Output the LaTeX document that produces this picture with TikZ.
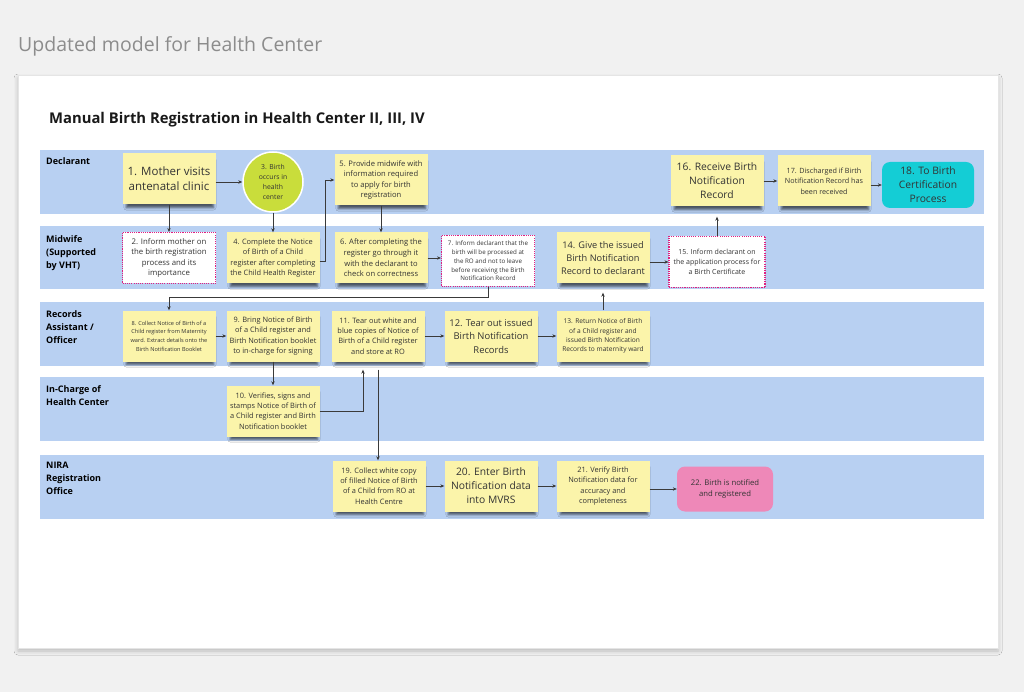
\documentclass[tikz,border=0pt]{standalone}
\usepackage{fontspec}
\setmainfont{Open Sans}
\usepackage{tikz}
\usetikzlibrary{arrows.meta}
\usetikzlibrary{calc}
\usetikzlibrary{shadows.blur}
\definecolor{pagegray}{HTML}{F1F1F1}
\definecolor{headgray}{HTML}{8C8C8C}
\definecolor{lanefill}{HTML}{B8D0F2}
\definecolor{stickyyellow}{HTML}{FBF4AA}
\definecolor{dotpink}{HTML}{E0207F}
\definecolor{limegreen}{HTML}{C9DD3B}
\definecolor{tealbox}{HTML}{14CDD5}
\definecolor{pinkbox}{HTML}{EE88B8}
\definecolor{inkgray}{HTML}{333333}
\definecolor{linegray}{HTML}{3A3A3A}

\begin{document}
\begin{tikzpicture}[x=1pt,y=-1pt,
  sticky/.style={fill=stickyyellow,minimum width=93pt,minimum height=51pt,inner sep=1pt,
    align=center,text=inkgray,
    blur shadow={shadow xshift=1pt,shadow yshift=-5pt,shadow blur radius=2.5pt,shadow opacity=60,shadow scale=0.94}},
  dotbox/.style={fill=white,draw=dotpink,line width=1.1pt,dash pattern=on 1.1pt off 1.1pt,
    minimum width=93pt,minimum height=51pt,inner sep=1pt,align=center,text=inkgray},
  roundbox/.style={rounded corners=8pt,minimum width=92pt,minimum height=46pt,inner sep=1pt,
    align=center,text=inkgray},
  bigtext/.style={font=\fontsize{10.3}{14}\selectfont},
  midtext/.style={font=\fontsize{7.4}{10.4}\selectfont},
  smalltext/.style={font=\fontsize{6.4}{9.2}\selectfont},
  lanelabel/.style={anchor=north west,inner sep=0pt,align=left,text=black,
    font=\fontsize{9}{13}\selectfont\bfseries},
  flow/.style={draw=linegray,line width=0.6pt,-{Stealth[length=4pt,width=3.4pt]}}]
  \useasboundingbox (0,0) rectangle (1024,692);
  \fill[pagegray] (0,0) rectangle (1024,692);
  \fill[white,draw=black!10,blur shadow={shadow xshift=0pt,shadow yshift=-3pt,shadow blur radius=4pt,shadow opacity=22}] (18,75) rectangle (998,648);
  \node[anchor=base west,inner sep=0pt,text=headgray,font=\fontsize{19.5}{24}\selectfont] (heading) at (18,52) {Updated model for Health Center};
  \node[anchor=base west,inner sep=0pt,text=black!90,font=\fontsize{14.8}{18}\selectfont\bfseries] (title) at (49,124) {Manual Birth Registration in Health Center II, III, IV};

  \fill[lanefill] (40,150) rectangle (984,214);
  \fill[lanefill] (40,226) rectangle (984,289);
  \fill[lanefill] (40,302) rectangle (984,366);
  \fill[lanefill] (40,377) rectangle (984,441);
  \fill[lanefill] (40,455) rectangle (984,519);
  \node[lanelabel] (declarant) at (46,157) {Declarant};
  \node[lanelabel] (midwife) at (46,235) {Midwife\\(Supported\\by VHT)};
  \node[lanelabel] (records) at (46,310) {Records\\Assistant /\\Officer};
  \node[lanelabel] (incharge) at (46,385) {In-Charge of\\Health Center};
  \node[lanelabel] (nira) at (46,462) {NIRA\\Registration\\Office};

  \node[sticky,font=\fontsize{11.5}{15}\selectfont] (n1) at (169,179) {1. Mother visits\\antenatal clinic};
  \node[dotbox,font=\fontsize{7.8}{10.6}\selectfont] (n2) at (169,258) {2. Inform mother on\\the birth registration\\process and its\\importance};
  \node[circle,fill=limegreen,draw=white,line width=1.5pt,minimum size=60pt,inner sep=0pt,align=center,text=inkgray,font=\fontsize{6.8}{10}\selectfont] (n3) at (273,182) {3. Birth\\occurs in\\health\\center};
  \node[sticky,midtext] (n4) at (273,258) {4. Complete the Notice\\of Birth of a Child\\register after completing\\the Child Health Register};
  \node[sticky,midtext,font=\fontsize{7.6}{10.6}\selectfont] (n5) at (381,180) {5. Provide midwife with\\information required\\to apply for birth\\registration};
  \node[sticky,midtext,font=\fontsize{7.6}{10.6}\selectfont] (n6) at (381,258) {6. After completing the\\register go through it\\with the declarant to\\check on correctness};
  \node[dotbox,smalltext,font=\fontsize{6.2}{8.8}\selectfont] (n7) at (488,261) {7. Inform declarant that the\\birth will be processed at\\the RO and not to leave\\before receiving the Birth\\Notification Record};
  \node[sticky,smalltext,font=\fontsize{5.6}{8.6}\selectfont] (n8) at (169,336) {8. Collect Notice of Birth of a\\Child register from Maternity\\ward. Extract details onto the\\Birth Notification Booklet};
  \node[sticky,midtext] (n9) at (273,336) {9. Bring Notice of Birth\\of a Child register and\\Birth Notification booklet\\to in-charge for signing};
  \node[sticky,midtext] (n10) at (273,411) {10. Verifies, signs and\\stamps Notice of Birth of\\a Child register and Birth\\Notification booklet};
  \node[sticky,midtext] (n11) at (378,336) {11. Tear out white and\\blue copies of Notice of\\Birth of a Child register\\and store at RO};
  \node[sticky,bigtext,font=\fontsize{9.4}{13.5}\selectfont] (n12) at (491,336) {12. Tear out issued\\Birth Notification\\Records};
  \node[sticky,smalltext,font=\fontsize{6.6}{9.2}\selectfont] (n13) at (603,336) {13. Return Notice of Birth\\of a Child register and\\issued Birth Notification\\Records to maternity ward};
  \node[sticky,bigtext,font=\fontsize{9.2}{13}\selectfont] (n14) at (603,258) {14. Give the issued\\Birth Notification\\Record to declarant};
  \node[dotbox,font=\fontsize{7}{10}\selectfont,minimum width=96pt] (n15) at (717,262) {15. Inform declarant on\\the application process for\\a Birth Certificate};
  \node[sticky,bigtext] (n16) at (717,181) {16. Receive Birth\\Notification\\Record};
  \node[sticky,font=\fontsize{7.2}{10.4}\selectfont] (n17) at (824,181) {17. Discharged if Birth\\Notification Record has\\been received};
  \node[roundbox,fill=tealbox,bigtext] (n18) at (928,185) {18. To Birth\\Certification\\Process};
  \node[sticky,midtext] (n19) at (379,486) {19. Collect white copy\\of filled Notice of Birth\\of a Child from RO at\\Health Centre};
  \node[sticky,bigtext] (n20) at (491,486) {20. Enter Birth\\Notification data\\into MVRS};
  \node[sticky,midtext] (n21) at (603,486) {21. Verify Birth\\Notification data for\\accuracy and\\completeness};
  \node[roundbox,fill=pinkbox,minimum width=96pt,minimum height=45pt,font=\fontsize{7.7}{11}\selectfont] (n22) at (725,489) {22. Birth is notified\\and registered};

  \draw[flow] (n1.east |- n3) -- (n3.west);
  \draw[flow] (n1.south) -- (n2.north);
  \draw[flow] (n3.south) -- (n4.north);
  \draw[flow] ([yshift=-3pt]n4.east) -- ++(6,0) |- (n5.west);
  \draw[flow] (n5.south) -- (n6.north);
  \draw[flow] (n6.east) -- (n6.east -| n7.west);
  \draw[flow] (n7.south) -- ++(0,10) -| (n8.north);
  \draw[flow] (n8.east) -- (n9.west);
  \draw[flow] (n9.south) -- (n10.north);
  \draw[flow] (n10.east) -| ([xshift=-15pt,yshift=-8pt]n11.south);
  \draw[flow] ([yshift=-8pt]n11.south) -- (n11.south |- n19.north);
  \draw[flow] (n11.east) -- (n12.west);
  \draw[flow] (n12.east) -- (n13.west);
  \draw[flow] (n13.north) -- ([yshift=-9pt]n14.south);
  \draw[flow] (n14.east |- n15) -- (n15.west);
  \draw[flow] (n15.north) -- ([yshift=-10pt]n16.south);
  \draw[flow] (n16.east |- n17) -- (n17.west);
  \draw[flow] (n17.east |- n18) -- (n18.west);
  \draw[flow] (n19.east) -- (n20.west);
  \draw[flow] (n20.east) -- (n21.west);
  \draw[flow] (n21.east |- n22) -- (n22.west);
\end{tikzpicture}
\end{document}
